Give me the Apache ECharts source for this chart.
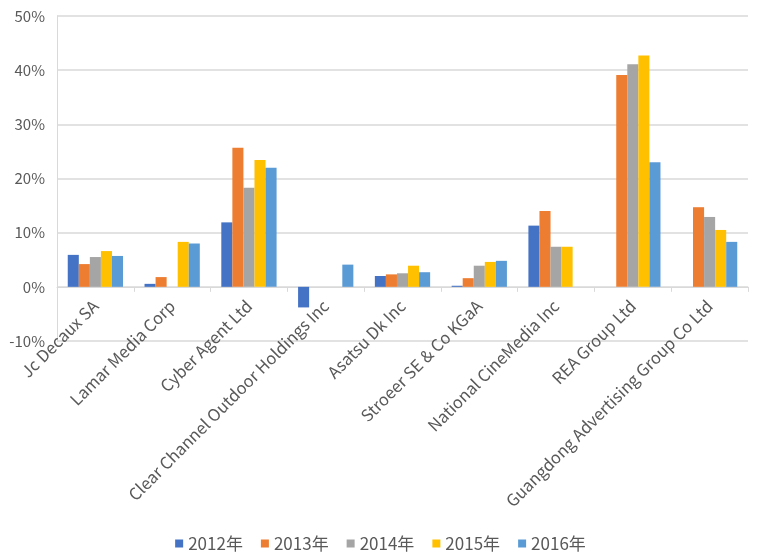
<!DOCTYPE html>
<html>
<head>
    <meta charset="utf-8">
    <title>ECharts</title>
    <script src="https://cdn.jsdelivr.net/npm/echarts@6/dist/echarts.min.js"></script>
    <style>
        html, body { margin: 0; padding: 0; background: #fff; }
        #main { width: 761px; height: 560px; }
    </style>
</head>
<body>
<div id="main"></div>
<script type="text/javascript">
    // 公司名称
    var companies = ['Jc Decaux SA', 'Lamar Media Corp', 'Cyber Agent Ltd',
        'Clear Channel Outdoor Holdings Inc', 'Asatsu Dk Inc', 'Stroeer SE & Co KGaA',
        'National CineMedia Inc', 'REA Group Ltd', 'Guangdong Advertising Group Co Ltd'];
    var years = ['2012年', '2013年', '2014年', '2015年', '2016年'];
    var colors = ['#4472C4', '#ED7D31', '#A5A5A5', '#FFC000', '#5B9BD5'];

    // 各年度数值（%），null 表示无数据
    var v2012 = [5.9, 0.55, 11.9, -3.8, 2.0, 0.2, 11.3, null, null];
    var v2013 = [4.2, 1.8, 25.7, null, 2.3, 1.6, 14.0, 39.1, 14.7];
    var v2014 = [5.5, null, 18.3, null, 2.5, 3.9, 7.4, 41.1, 12.9];
    var v2015 = [6.6, 8.3, 23.4, null, 3.9, 4.6, 7.4, 42.7, 10.5];
    var v2016 = [5.7, 8.0, 22.0, 4.1, 2.7, 4.8, null, 23.0, 8.3];
    var allValues = [v2012, v2013, v2014, v2015, v2016];

    var font = '"Noto Sans CJK SC", "Noto Sans", sans-serif';
    var myChart = echarts.init(document.getElementById('main'));

    var series = years.map(function (y, i) {
        return {
            name: y,
            type: 'bar',
            data: allValues[i],
            barGap: '0%',
            barCategoryGap: '28%',
            itemStyle: { color: colors[i] }
        };
    });

    myChart.setOption({
        animation: false,
        textStyle: { fontFamily: font },
        legend: {
            bottom: 3,
            left: 'center',
            itemWidth: 8,
            itemHeight: 8,
            itemGap: 18,
            icon: 'rect',
            textStyle: { fontSize: 17, color: '#595959', fontFamily: font },
            data: years
        },
        grid: {
            left: 57, right: 13, top: 16, bottom: 219,
            containLabel: false,
            outerBoundsMode: 'none'
        },
        xAxis: {
            type: 'category',
            data: companies,
            axisLine: { onZero: true, lineStyle: { color: '#d9d9d9', width: 1 } },
            axisTick: { show: true, alignWithLabel: false, length: 5, lineStyle: { color: '#d9d9d9' } },
            axisLabel: {
                interval: 0,
                rotate: 45,
                fontSize: 16.5,
                color: '#595959',
                // 标签贴着 0% 线，而不是网格底部
                margin: -38,
                fontFamily: font
            }
        },
        yAxis: {
            type: 'value',
            min: -10,
            max: 50,
            interval: 10,
            axisLine: { show: true, lineStyle: { color: '#d9d9d9' } },
            axisTick: { show: false },
            splitLine: { lineStyle: { color: '#d9d9d9', width: 1.5 } },
            axisLabel: {
                formatter: '{value}%',
                fontSize: 15,
                color: '#595959',
                margin: 12,
                fontFamily: font
            }
        },
        series: series
    });
</script>
</body>
</html>
